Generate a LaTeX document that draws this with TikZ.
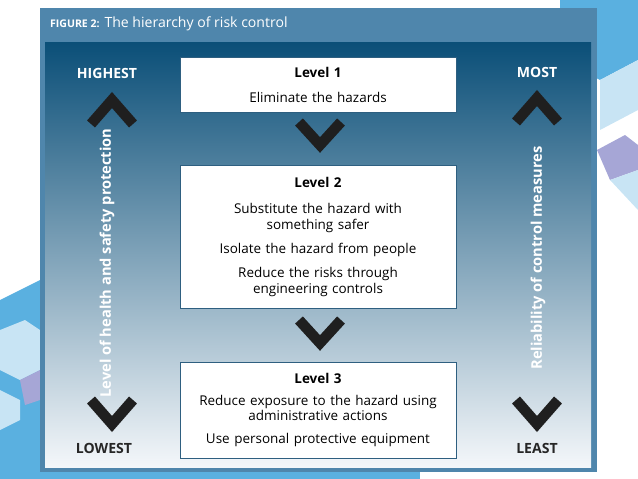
\documentclass[tikz,border=0pt]{standalone}
\usepackage{fontspec}
\setmainfont{Open Sans}
\usetikzlibrary{positioning}
\definecolor{barblue}{HTML}{4F86AC}
\definecolor{deepblue}{HTML}{0B4F78}
\definecolor{paleblue}{HTML}{F4F7FA}
\definecolor{lightcyan}{HTML}{5AB0E0}
\definecolor{hexlilac}{HTML}{A6A6D6}
\definecolor{hexpale}{HTML}{C8E4F4}
\definecolor{boxedge}{HTML}{2E5F80}
\tikzset{
	levelbox/.style={draw=boxedge, fill=white, minimum width=277*0.85pt, align=center, font=\fontsize{11.5}{13.5}\selectfont, text width=262*0.85pt, inner sep=2pt},
	chevron/.style={line width=9pt, miter limit=10, draw=black!88},
	endlabel/.style={font=\bfseries\fontsize{12}{14}\selectfont, text=#1},
	sidelabel/.style={rotate=90, font=\bfseries\fontsize{12.5}{14}\selectfont, text=white}
}
\begin{document}
\begin{tikzpicture}[x=0.03cm, y=-0.03cm]
	\useasboundingbox (0,0) rectangle (638,479);
	%decorations
	\fill[lightcyan] (560,0) -- (638,0) -- (638,60) -- (600,80) -- (560,60) -- cycle;
	\fill[hexpale] (600,80) -- (638,60) -- (638,110) -- (600,130) -- cycle;
	\fill[hexlilac] (597,150) -- (625,135) -- (638,145) -- (638,170) -- (610,180) -- cycle;
	\fill[hexpale] (610,180) -- (638,170) -- (638,210) -- cycle;
	\fill[lightcyan] (0,300) -- (40,280) -- (40,479) -- (0,479) -- cycle;
	\fill[hexpale] (0,330) -- (25,320) -- (40,330) -- (40,370) -- (20,380) -- (0,370) -- cycle;
	\fill[hexlilac] (20,380) -- (40,370) -- (40,400) -- (25,405) -- cycle;
	\fill[hexpale] (0,390) -- (20,400) -- (20,420) -- (0,430) -- cycle;
	\fill[lightcyan] (40,460) rectangle (420,479);
	%frame
	\fill[barblue] (40,8) rectangle (597,472);
	\shade[top color=deepblue, bottom color=paleblue] (45,43) rectangle (591,467);
	\node[anchor=west, text=white, font=\fontsize{12}{14}\selectfont] (title) at (46,24)
		{{\fontsize{9}{10}\selectfont\bfseries FIGURE 2:} The hierarchy of risk control};
	%levels
	\node[levelbox, minimum height=55*0.85pt] (lvl1) at (318,85)
		{\textbf{Level 1}\\[8pt] Eliminate the hazards};
	\node[levelbox, minimum height=144*0.85pt] (lvl2) at (318,237)
		{\textbf{Level 2}\\[9pt] Substitute the hazard with\\ something safer\\[7pt]
		 Isolate the hazard from people\\[7pt] Reduce the risks through\\ engineering controls};
	\node[levelbox, minimum height=96*0.85pt] (lvl3) at (318,410)
		{\textbf{Level 3}\\[5pt] Reduce exposure to the hazard using\\ administrative actions\\[6pt]
		 Use personal protective equipment};
	%chevrons
	\draw[chevron] (299,122) -- (320,145) -- (341,122);
	\draw[chevron] (299,320) -- (320,343) -- (341,320);
	\draw[chevron] (91,124) -- (112,100) -- (133,124);
	\draw[chevron] (91,400) -- (112,424) -- (133,400);
	\draw[chevron] (516,122) -- (537,98) -- (558,122);
	\draw[chevron] (516,400) -- (537,424) -- (558,400);
	%labels
	\node[endlabel=white] (highest) at (107,73) {HIGHEST};
	\node[endlabel=white] (most) at (537,72) {MOST};
	\node[endlabel=black!85] (lowest) at (104,448) {LOWEST};
	\node[endlabel=black!85] (least) at (537,448) {LEAST};
	\node[sidelabel] (protection) at (107,263) {Level of health and safety protection};
	\node[sidelabel] (reliability) at (538,258) {Reliability of control measures};
\end{tikzpicture}
\end{document}
